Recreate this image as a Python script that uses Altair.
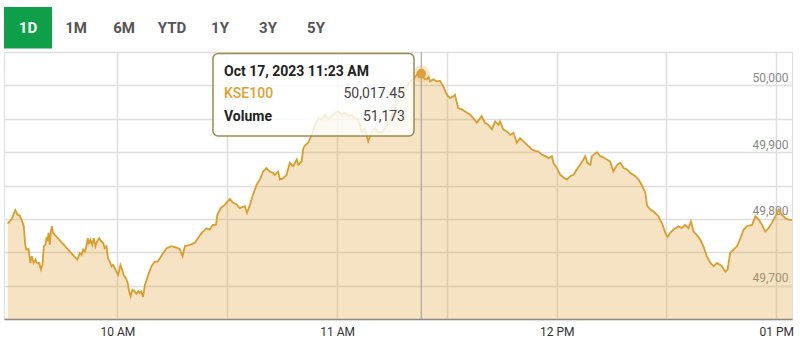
import altair as alt
import pandas as pd

# ---- data (minutes after 09:30 and KSE100 level) ----
minutes = [
    0.0, 1.0, 2.1, 2.7, 3.3, 3.6, 4.0, 4.4, 4.8, 5.1, 5.7, 6.2, 6.6, 7.1, 7.6, 8.0, 8.6, 9.1, 9.5, 9.9,
    10.3, 10.6, 10.9, 11.2, 11.5, 11.8, 12.1, 12.4,
    19.0, 19.4, 19.7, 20.2, 20.6, 21.1, 21.5, 21.9, 22.2, 22.6, 23.1, 23.5, 24.0, 24.4, 25.0, 25.6, 26.1,
    26.5, 27.0, 27.4, 27.9, 28.4, 28.8, 29.3, 29.7, 30.2, 30.8, 31.3, 31.7, 32.3, 32.8, 33.2, 33.6, 34.1,
    34.6, 35.2, 35.7, 36.1, 36.5, 37.0, 37.5, 38.4, 39.3, 40.2, 41.0, 41.6, 42.5, 43.4, 44.8, 46.1, 47.0,
    47.8, 48.4, 49.8, 51.1, 52.0, 53.0, 54.3, 55.2, 56.1, 56.9, 57.3, 58.2, 59.3, 60.7, 61.6, 62.5, 63.4,
    64.8, 65.4, 66.2, 66.9, 68.0, 68.9, 69.8, 70.7,
    71.6, 72.5, 73.0, 73.9, 74.4, 75.3, 76.2, 77.1, 78.0, 79.0, 79.4, 80.3, 80.8, 81.4, 82.1, 83.1, 84.0,
    84.9, 85.8, 86.7, 87.6, 88.5, 89.4, 90.3, 91.3, 92.2, 93.1, 94.0, 94.9, 95.8, 96.7, 97.6, 98.5, 99.5,
    100.4, 101.3, 102.2, 103.1, 104.0, 104.9, 105.8, 106.7, 107.7, 108.6, 109.9, 110.8, 111.8, 113.0,
    113.9, 114.5, 115.0, 115.4, 116.3, 117.2, 118.1, 119.0, 120.0, 120.9,
    121.8, 122.2, 123.1, 124.1, 125.0, 126.4, 127.2, 128.2, 129.5, 130.4,
    131.3, 132.3, 133.2, 134.1, 134.5, 135.4, 136.4, 137.3, 138.2, 139.1,
    140.0, 140.9, 142.3, 143.2, 144.1, 145.0, 146.0, 146.9, 147.8, 148.7,
    149.1, 150.1, 151.0, 151.9, 152.8, 153.7, 154.6, 155.5, 156.4, 157.3,
    157.8, 158.4, 159.2, 159.6, 160.3, 161.0, 161.9, 162.8, 163.7, 164.6,
    165.5, 166.5, 167.4, 168.3, 169.2, 170.1, 171.5, 172.4, 173.3, 174.2,
    174.7, 175.6, 176.5, 177.4, 177.8, 178.8, 179.7, 180.3, 181.0, 181.9,
    183.3, 184.2, 185.1, 186.0, 186.7, 187.4, 188.3, 189.2, 190.1, 191.0,
    192.0, 192.9, 193.8, 194.7, 195.2, 196.1, 196.7, 197.4, 198.3, 199.3,
    200.2, 201.1, 202.0, 203.4, 204.3, 205.2, 206.1, 207.0, 207.9, 208.8,
    209.8, 210.7, 211.6, 212.5, 213.4, 214.3,
]
kse100 = [
    49793, 49799, 49813, 49806, 49805, 49801, 49796, 49789, 49761, 49754, 49755, 49734, 49744, 49734,
    49739, 49734, 49734, 49724, 49731, 49759, 49761, 49771, 49769, 49779, 49761, 49781, 49789, 49779,
    49739, 49744, 49749, 49746, 49754, 49751, 49759, 49771, 49762, 49769, 49761, 49771, 49759, 49766,
    49771, 49766, 49764, 49756, 49759, 49741, 49736, 49729, 49731, 49726, 49721, 49716, 49731, 49724,
    49716, 49711, 49704, 49691, 49684, 49694,
    49692, 49688, 49692, 49689, 49691, 49683, 49701, 49716, 49729, 49736, 49736, 49741, 49749, 49756,
    49759, 49757, 49755, 49744, 49759, 49761, 49764, 49771, 49779, 49786, 49784, 49791, 49791, 49806,
    49816, 49821, 49830, 49824, 49822, 49816, 49819, 49809, 49821, 49834, 49851, 49859, 49871, 49876,
    49871, 49869, 49866, 49871, 49859, 49861, 49866, 49884, 49879, 49889, 49881, 49886, 49906, 49911,
    49914, 49926, 49941, 49951, 49949, 49956, 49949, 49954, 49959, 49961, 49956, 49959, 49954, 49956,
    49951, 49949, 49931, 49936, 49916, 49931, 49936, 49929, 49929, 49936, 49946, 49954, 49969, 49986,
    49997, 49992, 50006, 50009, 50016, 50017.45,
    50010, 50009, 50013, 50006, 50009, 50006, 50007, 49999, 49986, 49981,
    49984, 49986, 49966, 49964, 49961, 49956, 49951, 49944, 49954, 49944,
    49941, 49934, 49946, 49941, 49946, 49934, 49931, 49926, 49929, 49914,
    49921, 49916, 49909, 49904, 49902, 49901, 49896, 49894, 49891, 49894,
    49884, 49876, 49866, 49862, 49859, 49864, 49866, 49874, 49881, 49889,
    49894, 49884, 49881, 49894, 49897, 49900, 49894, 49892, 49889, 49886,
    49871, 49881, 49884, 49876, 49874, 49869, 49864, 49859, 49850, 49840,
    49820, 49814, 49811, 49806, 49804, 49793, 49779, 49773, 49779, 49784,
    49789, 49786, 49791, 49786, 49796, 49781, 49776, 49769, 49759, 49744,
    49734, 49729, 49734, 49731, 49729, 49721, 49724, 49749, 49754, 49759,
    49771, 49784, 49789, 49791, 49804, 49799, 49791, 49781, 49786, 49794,
    49804, 49814, 49806, 49801, 49799, 49798,
]

buttons = ["1D", "1M", "6M", "YTD", "1Y", "3Y", "5Y"]
active_button = "1D"

hover_minute = 113  # 11:23
hover_value = 50017.45
hover_volume = 51173
y_ticks = [49650, 49700, 49750, 49800, 49850, 49900, 49950, 50000, 50050]

# ---- tables ----
start = pd.Timestamp("2023-10-17 09:30:00")
df = pd.DataFrame({
    "time": (start + pd.to_timedelta(minutes, unit="m")).round("s"),
    "kse100": kse100,
})
hover_time = start + pd.Timedelta(minutes=hover_minute)
hl = pd.DataFrame({"time": [hover_time], "kse100": [hover_value]})
btn_df = pd.DataFrame({"label": buttons, "active": [b == active_button for b in buttons]})
one = pd.DataFrame({"k": [0]})


def dt(h, m, s=0):
    return alt.DateTime(year=2023, month=10, date=17, hours=h, minutes=m, seconds=s)


x_enc = alt.X(
    "time:T",
    title=None,
    scale=alt.Scale(domain=[dt(9, 29, 0), dt(13, 4, 18)]),
    axis=alt.Axis(
        values=[dt(10, 0), dt(10, 30), dt(11, 0), dt(11, 30), dt(12, 0), dt(12, 30), dt(13, 0)],
        labelExpr="minutes(datum.value) == 0 ? timeFormat(datum.value, '%I %p') : ''",
        grid=True, gridColor="#dedede", gridWidth=1.5,
        ticks=False, domainColor="#8a8a8a", domainWidth=1.5,
        labelColor="#333", labelFontSize=12, labelFont="Roboto", labelPadding=7,
        labelOverlap=False, labelFlush=False,
    ),
)
y_enc = alt.Y(
    "kse100:Q",
    title=None,
    scale=alt.Scale(domain=[49650, 50050], nice=False, zero=False),
    axis=alt.Axis(
        orient="right", values=y_ticks,
        labelExpr="datum.value % 100 == 0 ? format(datum.value, ',') : ''",
        grid=True, gridColor="#dedede", gridWidth=1.5,
        ticks=False, tickSize=0, domain=False,
        labelAlign="right", labelPadding=-4, labelBaseline="alphabetic", labelOffset=-4,
        labelColor="#888", labelFontSize=12, labelFont="Roboto", labelOverlap=False,
    ),
)

area = alt.Chart(df).mark_area(color="#e0a338", opacity=0.3).encode(
    x=x_enc, y=y_enc, y2=alt.datum(49650)
)
line = alt.Chart(df).mark_line(color="#d99e2b", strokeWidth=1.8).encode(x=x_enc, y=y_enc)
rule = alt.Chart(hl).mark_rule(color="#9a9a9a", strokeWidth=1).encode(x=x_enc)
halo = alt.Chart(hl).mark_circle(size=300, color="#e8b04a", opacity=0.25).encode(x=x_enc, y=y_enc)
dot = alt.Chart(hl).mark_circle(size=95, color="#dfa03a", opacity=1).encode(x=x_enc, y=y_enc)
main = alt.layer(area, line, rule, halo, dot)

# ---- tooltip box ----
tip_box = alt.Chart(one).mark_rect(
    cornerRadius=5, fill="white", fillOpacity=0.8, stroke="#9e8a4e", strokeWidth=1.5
).encode(x=alt.value(209), x2=alt.value(410), y=alt.value(1.5), y2=alt.value(84))

header = hover_time.strftime("%b %d, %Y %I:%M %p")
tip_texts = [
    (header, 220, 20, "left", "#222", "bold"),
    ("KSE100", 220, 42, "left", "#e0a030", 500),
    (f"{hover_value:,.2f}", 401, 42, "right", "#444", "normal"),
    ("Volume", 220, 65, "left", "#222", "bold"),
    (f"{hover_volume:,}", 401, 65, "right", "#444", "normal"),
]
tip_layers = [tip_box]
for txt, tx, ty, al, col, fw in tip_texts:
    tip_layers.append(
        alt.Chart(one).mark_text(
            align=al, baseline="middle", font="Roboto", fontSize=14, fontWeight=fw, color=col
        ).encode(x=alt.value(tx), y=alt.value(ty), text=alt.value(txt))
    )
tip = alt.layer(*tip_layers)

# ---- range buttons ----
btn_x = alt.X(
    "label:N", sort=buttons, axis=None, title=None,
    scale=alt.Scale(domain=buttons, range=[0, 336], paddingInner=0, paddingOuter=0),
)
btn_rect = alt.Chart(btn_df).transform_filter("datum.active").mark_rect(color="#0d9f49").encode(
    x=btn_x, y=alt.value(-45), y2=alt.value(-3.5)
)
btn_text = alt.Chart(btn_df).mark_text(
    font="Roboto", fontWeight="bold", fontSize=15, baseline="middle", align="center"
).encode(
    x=btn_x, y=alt.value(-24), text="label:N",
    color=alt.condition("datum.active", alt.value("white"), alt.value("#555")),
)
btns = alt.layer(btn_rect, btn_text)

chart = alt.layer(main, tip, btns).resolve_scale(x="independent").properties(
    width=788, height=267,
    padding={"left": 4, "top": 52, "right": 8, "bottom": 25},
    autosize=alt.AutoSizeParams(type="none"),
).configure_view(stroke="#b5b5b5", strokeWidth=1).configure(font="Roboto")

chart.save("out.html", embed_options={"renderer": "svg", "actions": False})
